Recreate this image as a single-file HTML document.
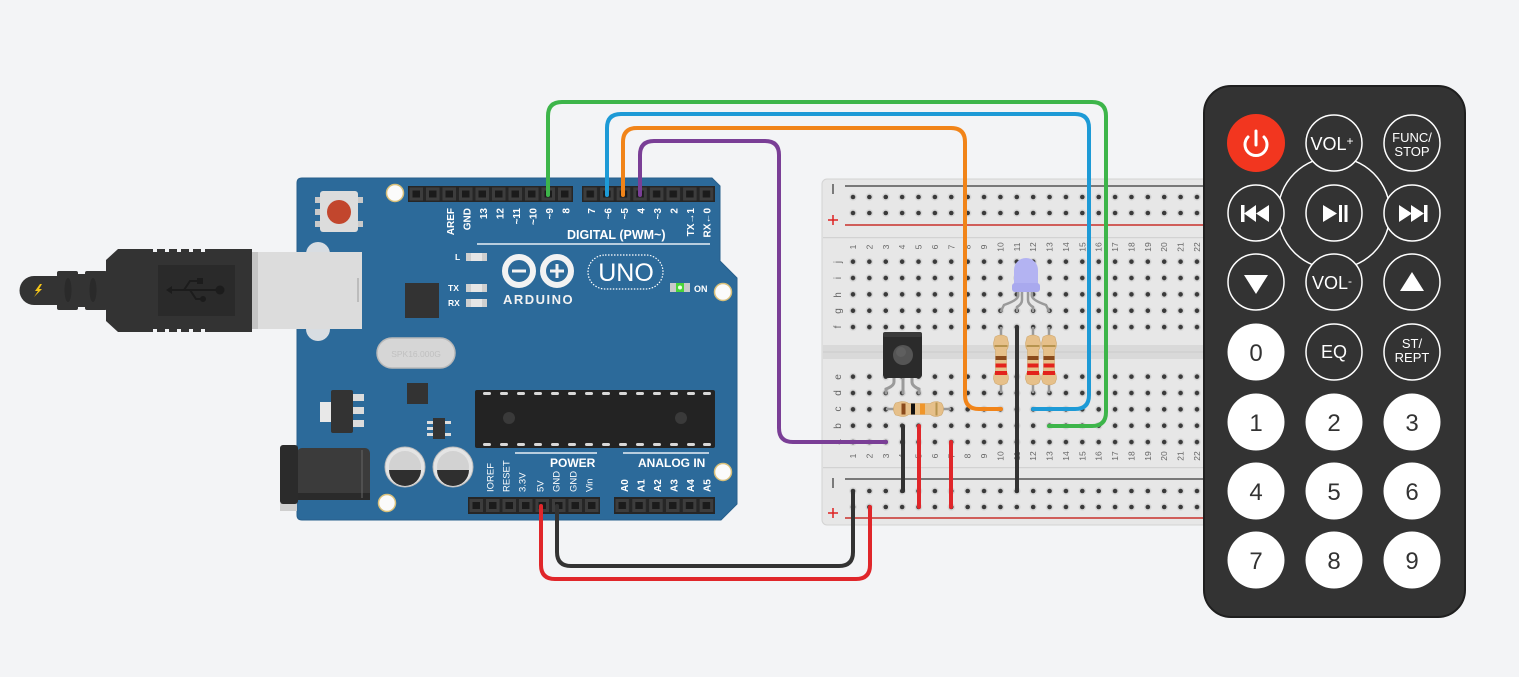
<!DOCTYPE html>
<html><head><meta charset="utf-8"><style>
html,body{margin:0;padding:0;background:#f3f4f6;}
svg{display:block;}
</style></head><body>
<svg width="1519" height="677" viewBox="0 0 1519 677" xmlns="http://www.w3.org/2000/svg" font-family="'Liberation Sans', Arial, sans-serif">
<defs>
<pattern id="ph" patternUnits="userSpaceOnUse" x="844.81" y="253.5" width="16.38" height="16.35"><circle cx="8.19" cy="8.175" r="3.8" fill="#d6d6d6"/><circle cx="8.19" cy="8.175" r="2.3" fill="#3a3a3a"/></pattern>
<pattern id="ph2" patternUnits="userSpaceOnUse" x="844.81" y="368.5" width="16.38" height="16.35"><circle cx="8.19" cy="8.175" r="3.8" fill="#d6d6d6"/><circle cx="8.19" cy="8.175" r="2.3" fill="#3a3a3a"/></pattern>
<pattern id="pr1" patternUnits="userSpaceOnUse" x="844.81" y="189" width="16.38" height="16"><circle cx="8.19" cy="8" r="3.8" fill="#d6d6d6"/><circle cx="8.19" cy="8" r="2.3" fill="#3a3a3a"/></pattern>
<pattern id="pr2" patternUnits="userSpaceOnUse" x="844.81" y="483" width="16.38" height="16"><circle cx="8.19" cy="8" r="3.8" fill="#d6d6d6"/><circle cx="8.19" cy="8" r="2.3" fill="#3a3a3a"/></pattern>
<pattern id="hL" patternUnits="userSpaceOnUse" x="408" y="186" width="16.5" height="16"><rect x="1.5" y="1.5" width="13.5" height="13" fill="#3d3d3d"/><rect x="4.5" y="4.5" width="7.5" height="7" fill="#1b1b1b"/></pattern>
<pattern id="hR" patternUnits="userSpaceOnUse" x="582" y="186" width="16.6" height="16"><rect x="1.5" y="1.5" width="13.5" height="13" fill="#3d3d3d"/><rect x="4.5" y="4.5" width="7.5" height="7" fill="#1b1b1b"/></pattern>
<pattern id="hBL" patternUnits="userSpaceOnUse" x="468" y="497" width="16.5" height="17"><rect x="1.5" y="2" width="13.5" height="13" fill="#3d3d3d"/><rect x="4.5" y="5" width="7.5" height="7" fill="#1b1b1b"/></pattern>
<pattern id="hBR" patternUnits="userSpaceOnUse" x="614" y="497" width="16.83" height="17"><rect x="1.5" y="2" width="13.5" height="13" fill="#3d3d3d"/><rect x="4.5" y="5" width="7.5" height="7" fill="#1b1b1b"/></pattern>
<path id="rb" d="M-6,-23 Q0,-27 6,-23 L7.5,-17 Q7.5,-12 5.5,-10 L5.5,12 Q7.5,14 7.5,19 L6,23 Q0,27 -6,23 L-7.5,19 Q-7.5,14 -5.5,12 L-5.5,-10 Q-7.5,-12 -7.5,-17 Z" fill="#e6c08a" stroke="#cfa86e" stroke-width="0.6"/>
</defs>

<rect width="1519" height="677" fill="#f3f4f6"/>

<!-- ===== BREADBOARD ===== -->
<rect x="822" y="179" width="400" height="346" rx="5" fill="#e7e7e7" stroke="#d3d3d3"/>
<rect x="823" y="237" width="398" height="1.2" fill="#d2d2d2"/>
<rect x="823" y="467" width="398" height="1.2" fill="#d2d2d2"/>
<rect x="823" y="345" width="398" height="14" fill="#d9d9d9"/>
<rect x="823" y="351" width="398" height="2" fill="#d2d2d2"/>
<rect x="844.81" y="253.5" width="376" height="81.75" fill="url(#ph)"/>
<rect x="844.81" y="368.5" width="376" height="81.75" fill="url(#ph2)"/>
<rect x="844.81" y="189" width="376" height="32" fill="url(#pr1)"/>
<rect x="844.81" y="483" width="376" height="32" fill="url(#pr2)"/>
<line x1="845" y1="186" x2="1222" y2="186" stroke="#555" stroke-width="1.5"/>
<line x1="845" y1="225" x2="1222" y2="225" stroke="#c8302c" stroke-width="1.5"/>
<line x1="845" y1="479" x2="1222" y2="479" stroke="#555" stroke-width="1.5"/>
<line x1="845" y1="518" x2="1222" y2="518" stroke="#c8302c" stroke-width="1.5"/>
<line x1="833" y1="184" x2="833" y2="194" stroke="#555" stroke-width="1.5"/>
<path d="M828,220 H838 M833,215 V225" stroke="#d22" stroke-width="1.5"/>
<line x1="833" y1="478" x2="833" y2="488" stroke="#555" stroke-width="1.5"/>
<path d="M828,513 H838 M833,508 V518" stroke="#d22" stroke-width="1.5"/>

<g font-size="8.5" fill="#666" text-anchor="middle">
<g id="nums">
<text transform="translate(856,247) rotate(-90)">1</text>
<text transform="translate(872.4,247) rotate(-90)">2</text>
<text transform="translate(888.8,247) rotate(-90)">3</text>
<text transform="translate(905.1,247) rotate(-90)">4</text>
<text transform="translate(921.5,247) rotate(-90)">5</text>
<text transform="translate(937.9,247) rotate(-90)">6</text>
<text transform="translate(954.3,247) rotate(-90)">7</text>
<text transform="translate(970.7,247) rotate(-90)">8</text>
<text transform="translate(987,247) rotate(-90)">9</text>
<text transform="translate(1003.4,247) rotate(-90)">10</text>
<text transform="translate(1019.8,247) rotate(-90)">11</text>
<text transform="translate(1036.2,247) rotate(-90)">12</text>
<text transform="translate(1052.6,247) rotate(-90)">13</text>
<text transform="translate(1068.9,247) rotate(-90)">14</text>
<text transform="translate(1085.3,247) rotate(-90)">15</text>
<text transform="translate(1101.7,247) rotate(-90)">16</text>
<text transform="translate(1118.1,247) rotate(-90)">17</text>
<text transform="translate(1134.5,247) rotate(-90)">18</text>
<text transform="translate(1150.8,247) rotate(-90)">19</text>
<text transform="translate(1167.2,247) rotate(-90)">20</text>
<text transform="translate(1183.6,247) rotate(-90)">21</text>
<text transform="translate(1200,247) rotate(-90)">22</text>
</g>
<text transform="translate(856,456) rotate(-90)">1</text>
<text transform="translate(872.4,456) rotate(-90)">2</text>
<text transform="translate(888.8,456) rotate(-90)">3</text>
<text transform="translate(905.1,456) rotate(-90)">4</text>
<text transform="translate(921.5,456) rotate(-90)">5</text>
<text transform="translate(937.9,456) rotate(-90)">6</text>
<text transform="translate(954.3,456) rotate(-90)">7</text>
<text transform="translate(970.7,456) rotate(-90)">8</text>
<text transform="translate(987,456) rotate(-90)">9</text>
<text transform="translate(1003.4,456) rotate(-90)">10</text>
<text transform="translate(1019.8,456) rotate(-90)">11</text>
<text transform="translate(1036.2,456) rotate(-90)">12</text>
<text transform="translate(1052.6,456) rotate(-90)">13</text>
<text transform="translate(1068.9,456) rotate(-90)">14</text>
<text transform="translate(1085.3,456) rotate(-90)">15</text>
<text transform="translate(1101.7,456) rotate(-90)">16</text>
<text transform="translate(1118.1,456) rotate(-90)">17</text>
<text transform="translate(1134.5,456) rotate(-90)">18</text>
<text transform="translate(1150.8,456) rotate(-90)">19</text>
<text transform="translate(1167.2,456) rotate(-90)">20</text>
<text transform="translate(1183.6,456) rotate(-90)">21</text>
<text transform="translate(1200,456) rotate(-90)">22</text>
<g font-size="10">
<text transform="translate(841,262) rotate(-90)">j</text>
<text transform="translate(841,278) rotate(-90)">i</text>
<text transform="translate(841,295) rotate(-90)">h</text>
<text transform="translate(841,311) rotate(-90)">g</text>
<text transform="translate(841,327) rotate(-90)">f</text>
<text transform="translate(841,377) rotate(-90)">e</text>
<text transform="translate(841,393) rotate(-90)">d</text>
<text transform="translate(841,409) rotate(-90)">c</text>
<text transform="translate(841,426) rotate(-90)">b</text>
<text transform="translate(841,442) rotate(-90)">a</text>
</g>
</g>

<!-- breadboard jumper wires -->
<g stroke-width="4" stroke-linecap="round" fill="none">
<line x1="903" y1="426" x2="903" y2="491" stroke="#333"/>
<line x1="919" y1="426" x2="919" y2="507" stroke="#e0262a"/>
<line x1="951" y1="442" x2="951" y2="507" stroke="#e0262a"/>
<line x1="1017" y1="327" x2="1017" y2="491" stroke="#333"/>
</g>

<!-- IR receiver -->
<g stroke="#9a9a9a" stroke-width="3" fill="none" stroke-linecap="round">
<path d="M894,376 L894,382 Q894,386 886,389 L886,393"/>
<path d="M903,376 L903,393"/>
<path d="M912,376 L912,382 Q912,386 919,389 L919,393"/>
</g>
<rect x="883" y="332" width="39" height="46" rx="3" fill="#2b2b2b"/>
<rect x="883" y="332" width="39" height="5" rx="2" fill="#3a3a3a"/>
<circle cx="903" cy="355" r="10" fill="#555"/>
<circle cx="901" cy="352" r="5" fill="#5f5f5f"/>

<!-- horizontal resistor -->
<line x1="886" y1="409" x2="951" y2="409" stroke="#9a9a9a" stroke-width="2.5"/>
<g transform="translate(918.5,409) rotate(-90)">
<use href="#rb"/>
<rect x="-5.5" y="-17" width="11" height="4" fill="#8a4a1c"/>
<rect x="-5.5" y="-7.5" width="11" height="4" fill="#111"/>
<rect x="-5.5" y="1.5" width="11" height="5" fill="#f0962a"/>
<rect x="-6.5" y="17" width="13" height="2" fill="#b7944f"/>
</g>

<!-- LED -->
<g stroke="#9a9a9a" stroke-width="2.5" fill="none" stroke-linecap="round">
<path d="M1018,290 L1018,296 Q1018,300 1004,305 L1001,311"/>
<path d="M1022,290 L1022,300 Q1022,304 1017,307 L1017,311"/>
<path d="M1028,290 L1028,300 Q1028,304 1033,307 L1033,311"/>
<path d="M1032,290 L1032,296 Q1032,300 1046,305 L1049,311"/>
</g>
<path d="M1014,284 L1014,270 A12,12 0 0 1 1038,270 L1038,284 Z" fill="#b3b3f2"/>
<rect x="1012" y="283" width="28" height="9" rx="3" fill="#a9a9ee"/>

<!-- vertical resistors -->
<g stroke="#9a9a9a" stroke-width="2.5">
<line x1="1001" y1="327" x2="1001" y2="393"/>
<line x1="1033" y1="327" x2="1033" y2="393"/>
<line x1="1049" y1="327" x2="1049" y2="393"/>
</g>
<g transform="translate(1001,360)"><use href="#rb"/><rect x="-6.5" y="-15" width="13" height="2" fill="#b7944f"/><rect x="-5.5" y="-4" width="11" height="4" fill="#8a4a1c"/><rect x="-5.5" y="3.5" width="11" height="4" fill="#e3221c"/><rect x="-6" y="11" width="12" height="4" fill="#e3221c"/></g>
<g transform="translate(1033,360)"><use href="#rb"/><rect x="-6.5" y="-15" width="13" height="2" fill="#b7944f"/><rect x="-5.5" y="-4" width="11" height="4" fill="#8a4a1c"/><rect x="-5.5" y="3.5" width="11" height="4" fill="#e3221c"/><rect x="-6" y="11" width="12" height="4" fill="#e3221c"/></g>
<g transform="translate(1049,360)"><use href="#rb"/><rect x="-6.5" y="-15" width="13" height="2" fill="#b7944f"/><rect x="-5.5" y="-4" width="11" height="4" fill="#8a4a1c"/><rect x="-5.5" y="3.5" width="11" height="4" fill="#e3221c"/><rect x="-6" y="11" width="12" height="4" fill="#e3221c"/></g>

<!-- ===== ARDUINO ===== -->
<path d="M302,178 L712,178 L720,186 L720,261 L737,278 L737,504 L721,520 L302,520 Q297,520 297,515 L297,183 Q297,178 302,178 Z" fill="#2c6a9a" stroke="#275f8c" stroke-width="1"/>
<!-- mount holes -->
<g fill="#fbfbfb" stroke="#d9c07a" stroke-width="1.5">
<circle cx="395" cy="193" r="8.5"/>
<circle cx="723" cy="292" r="8.5"/>
<circle cx="723" cy="472" r="8.5"/>
<circle cx="387" cy="503" r="8.5"/>
</g>
<!-- headers -->
<rect x="408" y="186" width="165" height="16" fill="#262626"/>
<rect x="408" y="186" width="165" height="16" fill="url(#hL)"/>
<rect x="582" y="186" width="133" height="16" fill="#262626"/>
<rect x="582" y="186" width="133" height="16" fill="url(#hR)"/>
<rect x="468" y="497" width="132" height="17" fill="#262626"/>
<rect x="468" y="497" width="132" height="17" fill="url(#hBL)"/>
<rect x="614" y="497" width="101" height="17" fill="#262626"/>
<rect x="614" y="497" width="101" height="17" fill="url(#hBR)"/>

<!-- header labels -->
<g fill="#fff" font-size="10" font-weight="bold" text-anchor="end">
<text transform="translate(454,208) rotate(-90)">AREF</text>
<text transform="translate(470.5,208) rotate(-90)">GND</text>
<text transform="translate(487,208) rotate(-90)">13</text>
<text transform="translate(503.5,208) rotate(-90)">12</text>
<text transform="translate(520,208) rotate(-90)">~11</text>
<text transform="translate(536.5,208) rotate(-90)">~10</text>
<text transform="translate(553,208) rotate(-90)">~9</text>
<text transform="translate(569.5,208) rotate(-90)">8</text>
<text transform="translate(595,208) rotate(-90)">7</text>
<text transform="translate(611.5,208) rotate(-90)">~6</text>
<text transform="translate(628,208) rotate(-90)">~5</text>
<text transform="translate(644.5,208) rotate(-90)">4</text>
<text transform="translate(661,208) rotate(-90)">~3</text>
<text transform="translate(677.5,208) rotate(-90)">2</text>
<text transform="translate(694,208) rotate(-90)">TX→1</text>
<text transform="translate(710.5,208) rotate(-90)">RX←0</text>
</g>
<text x="567" y="239" fill="#fff" font-size="12.5" font-weight="bold">DIGITAL (PWM~)</text>
<line x1="477" y1="244" x2="710" y2="244" stroke="#e6eef5" stroke-width="1.5"/>

<g fill="#fff" font-size="9.5">
<text transform="translate(493.5,492) rotate(-90)">IOREF</text>
<text transform="translate(509.5,492) rotate(-90)">RESET</text>
<text transform="translate(525.5,492) rotate(-90)">3.3V</text>
<text transform="translate(543.5,492) rotate(-90)">5V</text>
<text transform="translate(559.5,492) rotate(-90)">GND</text>
<text transform="translate(576.5,492) rotate(-90)">GND</text>
<text transform="translate(592.5,492) rotate(-90)">Vin</text>
</g>
<g fill="#fff" font-size="10" font-weight="bold">
<text transform="translate(628,492) rotate(-90)">A0</text>
<text transform="translate(644.5,492) rotate(-90)">A1</text>
<text transform="translate(661,492) rotate(-90)">A2</text>
<text transform="translate(677.5,492) rotate(-90)">A3</text>
<text transform="translate(694,492) rotate(-90)">A4</text>
<text transform="translate(710.5,492) rotate(-90)">A5</text>
</g>
<line x1="515" y1="453" x2="597" y2="453" stroke="#e6eef5" stroke-width="1.5"/>
<line x1="623" y1="453" x2="709" y2="453" stroke="#e6eef5" stroke-width="1.5"/>
<text x="550" y="467" fill="#fff" font-size="12" font-weight="bold">POWER</text>
<text x="638" y="467" fill="#fff" font-size="12" font-weight="bold">ANALOG IN</text>

<!-- logo -->
<g fill="none" stroke="#f2f2f2" stroke-width="6">
<circle cx="519" cy="271" r="14"/>
<circle cx="557" cy="271" r="14"/>
</g>
<path d="M512,271 H526" stroke="#f2f2f2" stroke-width="3"/>
<path d="M550,271 H564 M557,264 V278" stroke="#f2f2f2" stroke-width="3"/>
<text x="503" y="304" fill="#f2f2f2" font-size="13" font-weight="bold" letter-spacing="1.5">ARDUINO</text>
<rect x="588" y="255" width="75" height="34" rx="17" fill="none" stroke="#fff" stroke-width="1.2" stroke-dasharray="1.5 1.5"/>
<text x="626" y="281" fill="#fff" font-size="25" text-anchor="middle">UNO</text>
<!-- ON LED -->
<rect x="670" y="283" width="20" height="9" fill="#c9c9c9"/>
<rect x="676" y="283" width="8" height="9" fill="#49d43a"/>
<circle cx="680" cy="287.5" r="2" fill="#e8ffe0"/>
<text x="694" y="292" fill="#fff" font-size="9" font-weight="bold">ON</text>
<!-- L TX RX -->
<g fill="#fff" font-size="8.5" font-weight="bold">
<text x="455" y="260">L</text>
<text x="448" y="291">TX</text>
<text x="448" y="306">RX</text>
</g>
<g>
<rect x="466" y="253" width="21" height="8" fill="#cfcfcf"/><rect x="471" y="253" width="11" height="8" fill="#e6e6e6"/>
<rect x="466" y="284" width="21" height="8" fill="#cfcfcf"/><rect x="471" y="284" width="11" height="8" fill="#e6e6e6"/>
<rect x="466" y="299" width="21" height="8" fill="#cfcfcf"/><rect x="471" y="299" width="11" height="8" fill="#e6e6e6"/>
</g>
<!-- chips -->
<rect x="405" y="283" width="34" height="35" fill="#333"/>
<rect x="407" y="383" width="21" height="21" fill="#333"/>
<rect x="433" y="418" width="12" height="21" fill="#333"/>
<g fill="#ddd"><rect x="427" y="421" width="6" height="3"/><rect x="427" y="427" width="6" height="3"/><rect x="427" y="433" width="6" height="3"/><rect x="445" y="421" width="6" height="3"/><rect x="445" y="433" width="6" height="3"/></g>
<!-- crystal -->
<rect x="377" y="338" width="78" height="30" rx="15" fill="#d6d6d6" stroke="#b9b9b9" stroke-width="1.5"/>
<text x="416" y="357" fill="#c0c0c0" font-size="8.5" text-anchor="middle">SPK16.000G</text>
<!-- regulator -->
<rect x="320" y="402" width="14" height="20" fill="#e8e8e8"/>
<g fill="#dcdcdc"><rect x="351" y="394" width="13" height="7"/><rect x="351" y="407" width="13" height="7"/><rect x="351" y="420" width="13" height="7"/></g>
<rect x="331" y="390" width="22" height="43" rx="2" fill="#333"/>
<!-- ATmega -->
<rect x="475" y="390" width="240" height="58" rx="2" fill="#232323"/>
<g fill="#d8d8d8">
<rect x="483" y="392" width="8" height="3" rx="1.5"/><rect x="500" y="392" width="8" height="3" rx="1.5"/><rect x="517" y="392" width="8" height="3" rx="1.5"/><rect x="534" y="392" width="8" height="3" rx="1.5"/><rect x="551" y="392" width="8" height="3" rx="1.5"/><rect x="568" y="392" width="8" height="3" rx="1.5"/><rect x="585" y="392" width="8" height="3" rx="1.5"/><rect x="602" y="392" width="8" height="3" rx="1.5"/><rect x="619" y="392" width="8" height="3" rx="1.5"/><rect x="636" y="392" width="8" height="3" rx="1.5"/><rect x="653" y="392" width="8" height="3" rx="1.5"/><rect x="670" y="392" width="8" height="3" rx="1.5"/><rect x="687" y="392" width="8" height="3" rx="1.5"/><rect x="703" y="392" width="8" height="3" rx="1.5"/>
<rect x="483" y="443" width="8" height="3" rx="1.5"/><rect x="500" y="443" width="8" height="3" rx="1.5"/><rect x="517" y="443" width="8" height="3" rx="1.5"/><rect x="534" y="443" width="8" height="3" rx="1.5"/><rect x="551" y="443" width="8" height="3" rx="1.5"/><rect x="568" y="443" width="8" height="3" rx="1.5"/><rect x="585" y="443" width="8" height="3" rx="1.5"/><rect x="602" y="443" width="8" height="3" rx="1.5"/><rect x="619" y="443" width="8" height="3" rx="1.5"/><rect x="636" y="443" width="8" height="3" rx="1.5"/><rect x="653" y="443" width="8" height="3" rx="1.5"/><rect x="670" y="443" width="8" height="3" rx="1.5"/><rect x="687" y="443" width="8" height="3" rx="1.5"/><rect x="703" y="443" width="8" height="3" rx="1.5"/>
</g>
<circle cx="509" cy="418" r="6" fill="#3a3a3a"/>
<circle cx="681" cy="418" r="6" fill="#3a3a3a"/>
<!-- capacitors -->
<circle cx="405" cy="467" r="20" fill="#e4e4e4" stroke="#bdbdbd"/>
<circle cx="405" cy="467" r="16" fill="#d2d2d2"/>
<path d="M389,470 A16,16 0 0 0 421,470 Z" fill="#2f2f2f"/>
<circle cx="453" cy="467" r="20" fill="#e4e4e4" stroke="#bdbdbd"/>
<circle cx="453" cy="467" r="16" fill="#d2d2d2"/>
<path d="M437,470 A16,16 0 0 0 469,470 Z" fill="#2f2f2f"/>
<!-- reset button -->
<g fill="#c9c9c9"><rect x="315" y="197" width="6" height="6"/><rect x="315" y="209" width="6" height="6"/><rect x="315" y="221" width="6" height="6"/><rect x="357" y="197" width="6" height="6"/><rect x="357" y="221" width="6" height="6"/></g>
<rect x="320" y="191" width="38" height="41" rx="3" fill="#dcdcdc"/>
<circle cx="339" cy="212" r="12" fill="#c2462d"/>
<!-- DC jack -->
<rect x="280" y="503" width="17" height="8" fill="#cfcfcf"/>
<rect x="297" y="448" width="73" height="52" rx="5" fill="#3b3b3b"/>
<rect x="297" y="493" width="73" height="7" fill="#2a2a2a"/>
<line x1="362" y1="450" x2="362" y2="498" stroke="#666" stroke-width="1"/>
<rect x="280" y="445" width="18" height="59" rx="3" fill="#2b2b2b"/>

<!-- USB -->
<circle cx="318" cy="254" r="12" fill="#d8dde2"/>
<circle cx="318" cy="329" r="12" fill="#d8dde2"/>
<rect x="252" y="252" width="110" height="77" fill="#dcdcdc"/>
<rect x="252" y="252" width="6" height="77" fill="#c4c4c4"/>
<line x1="358" y1="278" x2="358" y2="302" stroke="#9d9d9d" stroke-width="1"/>
<path d="M106,260 L118,249 L252,249 L252,332 L118,332 L106,321 Z" fill="#333"/>
<g fill="#f3f4f6"><rect x="153" y="249" width="4" height="3"/><rect x="165" y="249" width="4" height="3"/><rect x="177" y="249" width="4" height="3"/><rect x="189" y="249" width="4" height="3"/><rect x="201" y="249" width="4" height="3"/><rect x="153" y="329" width="4" height="3"/><rect x="165" y="329" width="4" height="3"/><rect x="177" y="329" width="4" height="3"/><rect x="189" y="329" width="4" height="3"/><rect x="201" y="329" width="4" height="3"/></g>
<rect x="158" y="265" width="77" height="51" fill="#2a2a2a"/>
<g stroke="#1c1c1c" stroke-width="2" fill="none"><path d="M170,290 H216"/><path d="M184,290 L190,281 H198"/><path d="M190,290 L196,299 H202"/></g>
<circle cx="220" cy="290" r="4.5" fill="#1c1c1c"/><rect x="197" y="278" width="6" height="6" fill="#1c1c1c"/><circle cx="203" cy="299" r="3" fill="#1c1c1c"/><path d="M166,290 L172,286 L172,294 Z" fill="#1c1c1c"/>
<rect x="57" y="271" width="21" height="39" rx="2" fill="#333"/>
<rect x="76" y="274" width="10" height="33" fill="#333"/>
<rect x="85" y="271" width="22" height="39" rx="2" fill="#333"/>
<ellipse cx="68" cy="290" rx="3.5" ry="12" fill="#2a2a2a"/>
<ellipse cx="93" cy="290" rx="3.5" ry="12" fill="#2a2a2a"/>
<path d="M57,276 L34,276 A14.5,14.5 0 0 0 34,305 L57,305 Z" fill="#333"/>
<path d="M40,284 L35,291 L38,291 L34,297 L42,289 L39,289 L42,284 Z" fill="#f5c518"/>

<!-- ===== WIRES ===== -->
<g fill="none" stroke-width="4" stroke-linecap="round" stroke-linejoin="round">
<path d="M548,195 L548,116 Q548,102 562,102 L1092,102 Q1106,102 1106,116 L1106,412 Q1106,426 1092,426 L1049,426" stroke="#3db54a"/>
<path d="M607,195 L607,128 Q607,114 621,114 L1075,114 Q1089,114 1089,128 L1089,395 Q1089,409 1075,409 L1033,409" stroke="#1d9ad6"/>
<path d="M623,195 L623,142 Q623,128 637,128 L951,128 Q965,128 965,142 L965,395 Q965,409 979,409 L1001,409" stroke="#f18419"/>
<path d="M640,195 L640,155 Q640,141 654,141 L765,141 Q779,141 779,155 L779,428 Q779,442 793,442 L886,442" stroke="#7a3e96"/>
<path d="M541,506 L541,565 Q541,579 555,579 L856,579 Q870,579 870,565 L870,507" stroke="#e0262a"/>
<path d="M557,506 L557,552 Q557,566 571,566 L839,566 Q853,566 853,552 L853,491" stroke="#333"/>
</g>

<!-- ===== REMOTE ===== -->
<rect x="1204" y="86" width="261" height="531" rx="27" fill="#333" stroke="#1f1f1f" stroke-width="2"/>
<circle cx="1334" cy="213" r="56" fill="none" stroke="#fff" stroke-width="1.5"/>
<g fill="#333" stroke="#fff" stroke-width="1.5">
<circle cx="1334" cy="143" r="28"/>
<circle cx="1412" cy="143" r="28"/>
<circle cx="1256" cy="213" r="28"/>
<circle cx="1334" cy="213" r="28"/>
<circle cx="1412" cy="213" r="28"/>
<circle cx="1256" cy="282" r="28"/>
<circle cx="1334" cy="282" r="28"/>
<circle cx="1412" cy="282" r="28"/>
<circle cx="1334" cy="352" r="28"/>
<circle cx="1412" cy="352" r="28"/>
</g>
<circle cx="1256" cy="143" r="29" fill="#f2361f"/>
<path d="M1248,137 A11,11 0 1 0 1264,137" fill="none" stroke="#fff" stroke-width="3" stroke-linecap="round"/>
<line x1="1256" y1="131" x2="1256" y2="145" stroke="#fff" stroke-width="3" stroke-linecap="round"/>
<g fill="#fff">
<rect x="1241" y="205" width="3.5" height="17"/>
<path d="M1244,213.5 L1256,205 L1256,222 Z"/>
<path d="M1256,213.5 L1269,205 L1269,222 Z"/>
<path d="M1323,205 L1337,213.5 L1323,222 Z"/>
<rect x="1339" y="205" width="3" height="17"/>
<rect x="1344.5" y="205" width="3" height="17"/>
<path d="M1399,205 L1412,213.5 L1399,222 Z"/>
<path d="M1411,205 L1424,213.5 L1411,222 Z"/>
<rect x="1424" y="205" width="3.5" height="17"/>
<path d="M1244,275 L1268,275 L1256,294 Z"/>
<path d="M1400,291 L1424,291 L1412,272 Z"/>
</g>
<g fill="#fff" text-anchor="middle">
<text x="1332" y="150" font-size="18">VOL<tspan font-size="12" dy="-5">+</tspan></text>
<text x="1332" y="289" font-size="18">VOL<tspan font-size="12" dy="-4">-</tspan></text>
<text x="1412" y="142" font-size="13">FUNC/</text>
<text x="1412" y="156" font-size="13">STOP</text>
<text x="1334" y="358" font-size="18">EQ</text>
<text x="1412" y="348" font-size="13">ST/</text>
<text x="1412" y="362" font-size="13">REPT</text>
</g>
<g fill="#fff">
<circle cx="1256" cy="352" r="28.5"/>
<circle cx="1256" cy="422" r="28.5"/><circle cx="1334" cy="422" r="28.5"/><circle cx="1412" cy="422" r="28.5"/>
<circle cx="1256" cy="491" r="28.5"/><circle cx="1334" cy="491" r="28.5"/><circle cx="1412" cy="491" r="28.5"/>
<circle cx="1256" cy="560" r="28.5"/><circle cx="1334" cy="560" r="28.5"/><circle cx="1412" cy="560" r="28.5"/>
</g>
<g fill="#333" font-size="24" text-anchor="middle">
<text x="1256" y="361">0</text>
<text x="1256" y="431">1</text><text x="1334" y="431">2</text><text x="1412" y="431">3</text>
<text x="1256" y="500">4</text><text x="1334" y="500">5</text><text x="1412" y="500">6</text>
<text x="1256" y="569">7</text><text x="1334" y="569">8</text><text x="1412" y="569">9</text>
</g>
</svg>
</body></html>
